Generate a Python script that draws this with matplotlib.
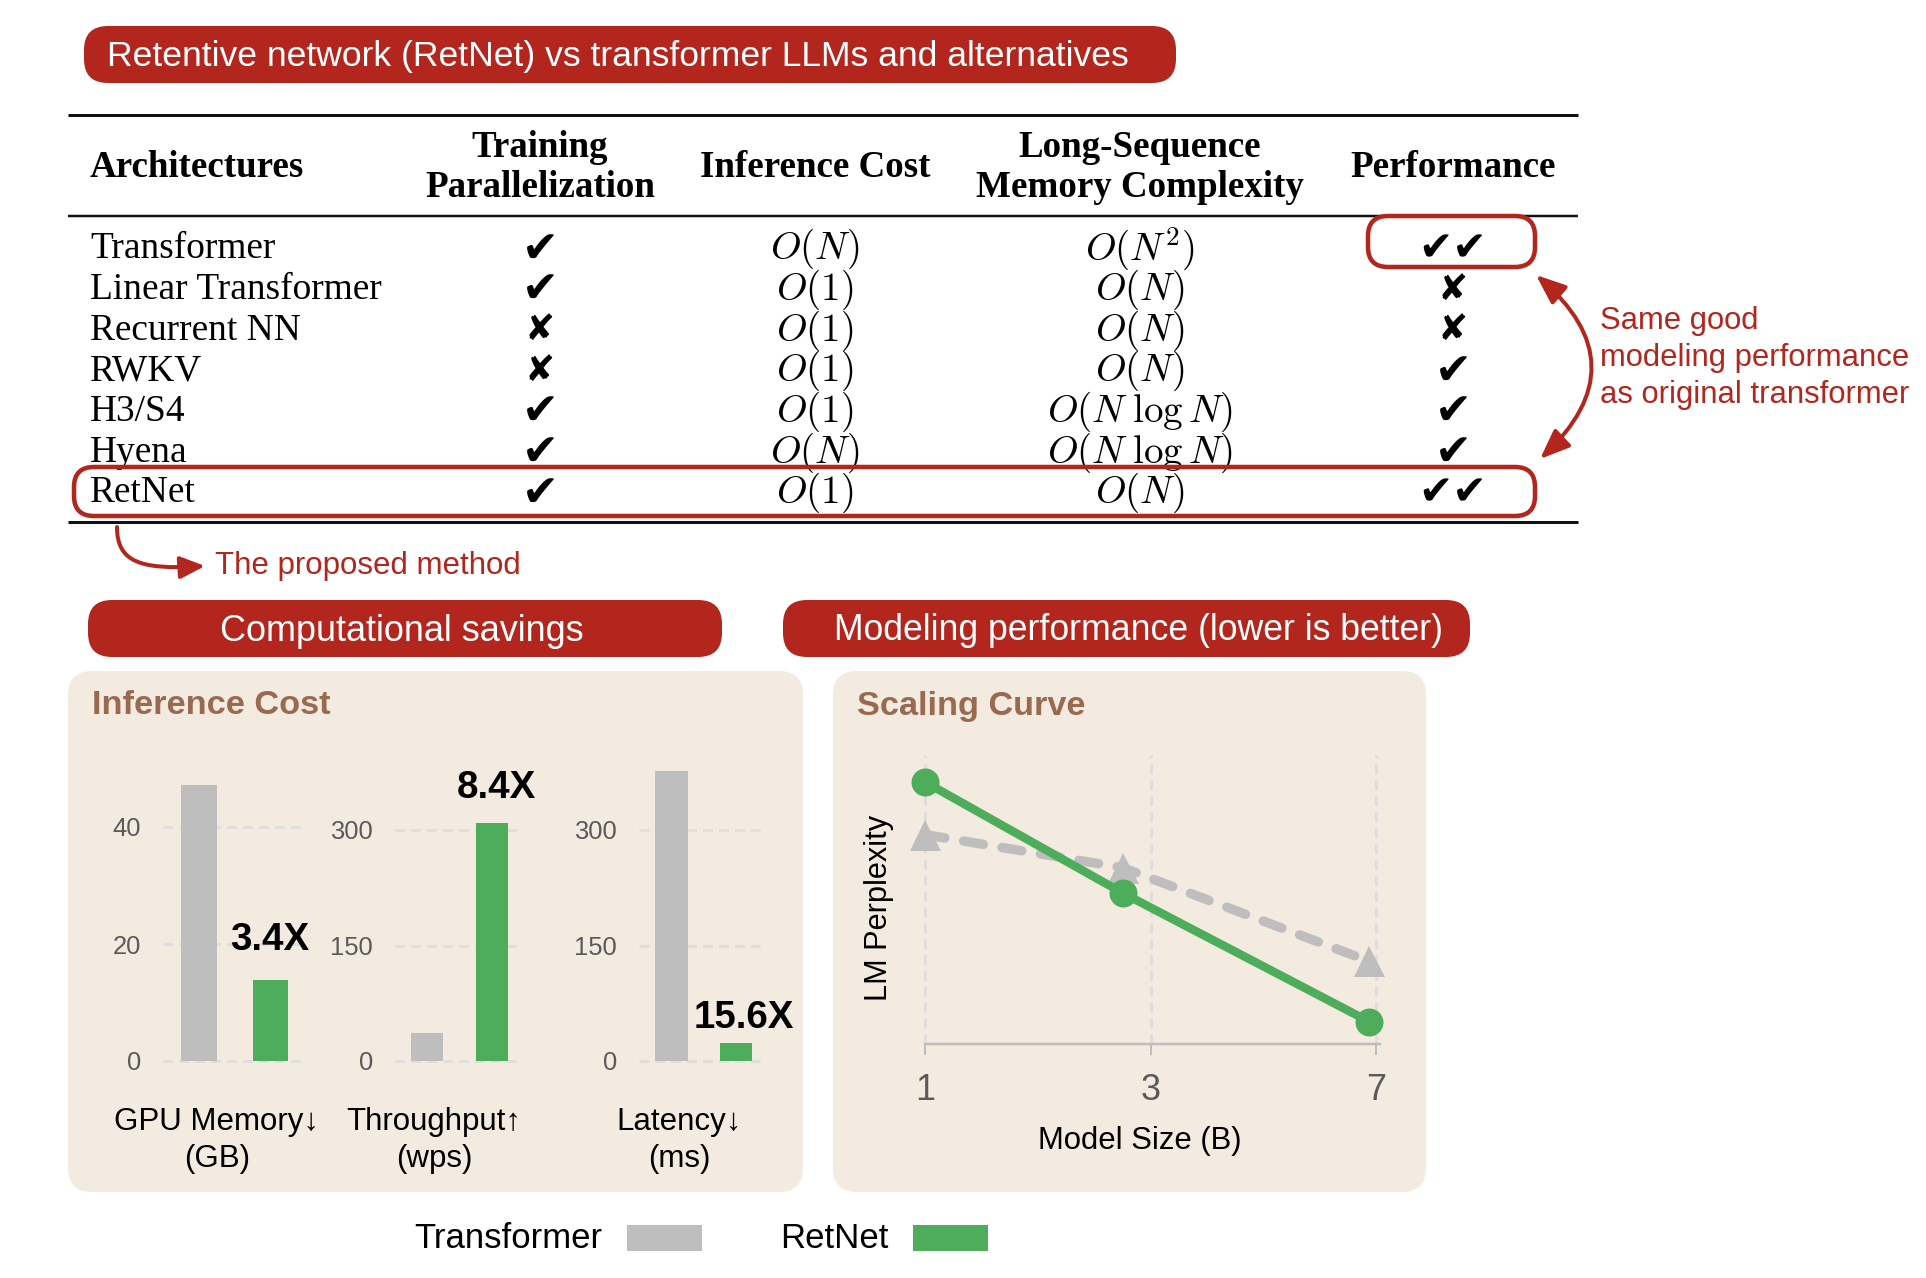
import matplotlib
matplotlib.use("Agg")
import matplotlib.pyplot as plt
from matplotlib.patches import FancyBboxPatch, FancyArrowPatch, Rectangle
from matplotlib.path import Path

# table
architectures = ["Transformer", "Linear Transformer", "Recurrent NN", "RWKV", "H3/S4", "Hyena", "RetNet"]
parallel = ["\u2714", "\u2714", "\u2718", "\u2718", "\u2714", "\u2714", "\u2714"]
inference = ["$O(N)$", "$O(1)$", "$O(1)$", "$O(1)$", "$O(1)$", "$O(N)$", "$O(1)$"]
memory = ["$O(N^2)$", "$O(N)$", "$O(N)$", "$O(N)$", r"$O(N\;\log N)$", r"$O(N\;\log N)$", "$O(N)$"]
performance = ["\u2714\u2714", "\u2718", "\u2718", "\u2714", "\u2714", "\u2714", "\u2714\u2714"]

# bar charts
memory_gb = [47.2, 13.9]
throughput_wps = [36, 309]
latency_ms = [376, 24]

# scaling curve
size_ticks = ["1", "3", "7"]
retnet_x = [0, 0.878, 1.97]
retnet_perplexity = [90.6, 52.1, 7.6]
transformer_x = [0, 0.878, 1.97]
transformer_perplexity = [72.4, 60.9, 28.5]

RED = "#B2261E"
GRAY = "#BEBEBE"
GREEN = "#4EAD5B"
PANEL = "#F3EBE0"
BROWN = "#9A6A50"
TICK = "#5A5A5A"
GRID = "#E0DEDC"
SANS = ["Liberation Sans", "DejaVu Sans"]
SERIF = ["Liberation Serif", "DejaVu Serif"]

W, H = 1926, 1278
fig = plt.figure(figsize=(W / 100, H / 100), dpi=100, facecolor="white")


def px(size):
    # pixels to points
    return size * 0.72


def axes_px(x0, x1, y_top, y_bottom, zorder=2):
    ax = fig.add_axes([x0 / W, 1 - y_bottom / H, (x1 - x0) / W, (y_bottom - y_top) / H], zorder=zorder)
    ax.patch.set_alpha(0)
    return ax


# background and foreground layers in pixel coordinates
bg = axes_px(0, W, 0, H, zorder=0)
fg = axes_px(0, W, 0, H, zorder=5)
for layer in (bg, fg):
    layer.set_xlim(0, W)
    layer.set_ylim(H, 0)
    layer.axis("off")


def rounded(x0, x1, y0, y1, radius, **kw):
    bg.add_patch(FancyBboxPatch((x0, y0), x1 - x0, y1 - y0,
                                boxstyle=f"round,pad=0,rounding_size={radius}", **kw))


def text(x, y, s, size, family=SANS, color="black", ha="center", va="center", layer=bg, **kw):
    return layer.text(x, y, s, fontsize=px(size), family=family, color=color, ha=ha, va=va, **kw)


# header pills
rounded(84, 1176, 26, 83, 24, fc=RED, ec="none")
text(107, 56.5, "Retentive network (RetNet) vs transformer LLMs and alternatives", 35.5, color="white", ha="left")
rounded(88, 722, 600, 657, 24, fc=RED, ec="none")
text(402, 631.5, "Computational savings", 36, color="white")
rounded(783, 1470, 600, 657, 24, fc=RED, ec="none")
text(1139, 631, "Modeling performance (lower is better)", 35.6, color="white")

# table rules
for y, lw in [(115, 3), (216, 2.5), (522, 3)]:
    bg.plot([68, 1578], [y, y], color="#111111", lw=px(lw), solid_capstyle="butt")

# table header
col_x = [540, 815, 1140, 1453]
text(90, 167.5, "Architectures", 37, family=SERIF, ha="left", weight="bold")
text(col_x[0], 147.5, "Training", 37, family=SERIF, weight="bold")
text(col_x[0], 187.5, "Parallelization", 37, family=SERIF, weight="bold")
text(col_x[1], 167.5, "Inference Cost", 37, family=SERIF, weight="bold")
text(col_x[2], 147.5, "Long-Sequence", 37, family=SERIF, weight="bold")
text(col_x[2], 187.5, "Memory Complexity", 37, family=SERIF, weight="bold")
text(col_x[3], 167.5, "Performance", 37, family=SERIF, weight="bold")

# table rows
row_y = [249 + 40.7 * i for i in range(len(architectures))]


def mark_size(mark):
    # check marks are drawn larger than crosses in the source table
    if mark == "\u2718":
        return 36
    return 41 if len(mark) > 1 else 44


for i, y in enumerate(row_y):
    text(90, y, architectures[i], 37.4, family=SERIF, ha="left")
    text(col_x[0], y, parallel[i], mark_size(parallel[i]), family="DejaVu Sans")
    text(col_x[1], y, inference[i], 39, math_fontfamily="cm")
    text(col_x[2], y, memory[i], 39, math_fontfamily="cm")
    text(col_x[3], y, performance[i], mark_size(performance[i]), family="DejaVu Sans")

# highlight boxes
rounded(1368, 1535, 216, 267, 20, fc="none", ec=RED, lw=px(4.5), zorder=4)
rounded(74, 1535, 467, 516, 20, fc="none", ec=RED, lw=px(4.5), zorder=4)

# annotations
bg.add_patch(FancyArrowPatch((1536, 275), (1540, 459), connectionstyle="arc3,rad=-0.56",
                             arrowstyle="<|-|>,head_length=1.0,head_width=0.4", mutation_scale=18,
                             color=RED, lw=px(4), shrinkA=0, shrinkB=0))
text(1600, 321.5, "Same good", 31, color=RED, ha="left")
text(1600, 358, "modeling performance", 31, color=RED, ha="left")
text(1600, 395, "as original transformer", 31, color=RED, ha="left")

proposed = Path([(117, 527), (117, 562), (140, 570), (205, 566)],
                [Path.MOVETO, Path.CURVE4, Path.CURVE4, Path.CURVE4])
bg.add_patch(FancyArrowPatch(path=proposed, arrowstyle="-|>,head_length=1.0,head_width=0.45",
                             mutation_scale=15, color=RED, lw=px(4), shrinkA=0, shrinkB=0))
text(215, 566, "The proposed method", 31.3, color=RED, ha="left")

# panels
rounded(68, 803, 671, 1192, 24, fc=PANEL, ec="none")
rounded(833, 1426, 671, 1192, 24, fc=PANEL, ec="none")
text(92, 705.5, "Inference Cost", 34.4, color=BROWN, ha="left", weight="bold")
text(857, 706.5, "Scaling Curve", 34.3, color=BROWN, ha="left", weight="bold")


def bar_chart(x0, x1, y_top, xlim, ylim, ticks, values):
    ax = axes_px(x0, x1, y_top, 1061)
    ax.bar([0, 1], values, width=0.5, color=[GRAY, GREEN], zorder=3)
    ax.set_xlim(*xlim)
    ax.set_ylim(*ylim)
    ax.set_yticks(ticks)
    ax.set_xticks([])
    ax.tick_params(axis="y", length=0, pad=px(22), labelsize=px(25.5), labelcolor=TICK)
    for label in ax.get_yticklabels():
        label.set_family(SANS)
    ax.yaxis.grid(True, color=GRID, lw=px(3), linestyle=(0, (3.3, 2)), clip_on=False)
    ax.set_axisbelow(True)
    for spine in ax.spines.values():
        spine.set_visible(False)
    return ax


bar_chart(163, 304, 768.5, (-0.503, 1.469), (0, 50), [0, 20, 40], memory_gb)
bar_chart(395, 519, 753, (-0.49, 1.415), (0, 400), [0, 150, 300], throughput_wps)
bar_chart(639, 763, 753, (-0.504, 1.419), (0, 400), [0, 150, 300], latency_ms)

text(270, 939.5, "3.4X", 38.5, weight="bold", layer=fg)
text(496, 788.5, "8.4X", 38.5, weight="bold", layer=fg)
text(744, 1017.5, "15.6X", 38.5, weight="bold", layer=fg)

text(217, 1122, "GPU Memory\u2193", 31.3)
text(217, 1159, "(GB)", 31.3)
text(434, 1122, "Throughput\u2191", 31.3)
text(434, 1159, "(wps)", 31.3)
text(679, 1122, "Latency\u2193", 31.3)
text(679, 1159, "(ms)", 31.3)

# scaling curve
line_ax = axes_px(925.2, 1380, 755, 1043.5)
line_ax.plot(transformer_x, transformer_perplexity, color=GRAY, lw=px(9.5), linestyle=(0, (2.1, 2.0)),
             dash_capstyle="round", marker="^", markersize=px(31), markeredgewidth=0, clip_on=False, zorder=3)
line_ax.plot(retnet_x, retnet_perplexity, color=GREEN, lw=px(8.5),
             marker="o", markersize=px(28), markeredgewidth=0, clip_on=False, zorder=4)
line_ax.set_xlim(0, 2.018)
line_ax.set_ylim(0, 100)
line_ax.set_xticks([0, 1, 2], size_ticks, family=SANS, fontsize=px(36), color=TICK)
line_ax.set_yticks([])
line_ax.tick_params(axis="x", length=px(11), width=px(2), color="#BDBDBD", pad=px(18.5))
line_ax.xaxis.grid(True, color=GRID, lw=px(3), linestyle=(0, (3.3, 2)), clip_on=False)
line_ax.set_axisbelow(True)
for name, spine in line_ax.spines.items():
    spine.set_visible(name == "bottom")
line_ax.spines["bottom"].set_color("#BDBDBD")
line_ax.spines["bottom"].set_linewidth(px(2.5))

text(1140, 1141, "Model Size (B)", 31.1)
text(878.5, 907.5, "LM Perplexity", 30.8, rotation=90)

# legend
text(414, 1238.5, "Transformer", 34.8, ha="left")
bg.add_patch(Rectangle((627, 1224.5), 75, 26, fc=GRAY, ec="none"))
text(780, 1238.5, "RetNet", 34.8, ha="left")
bg.add_patch(Rectangle((913, 1224.5), 75, 26, fc=GREEN, ec="none"))

fig.savefig("out.png", dpi=100)
